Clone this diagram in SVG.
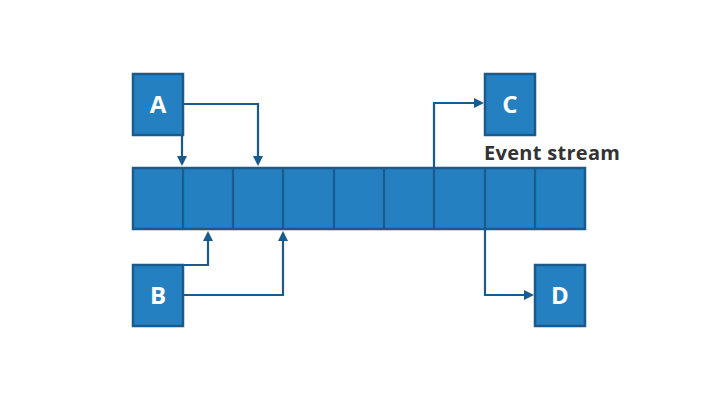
<svg xmlns="http://www.w3.org/2000/svg" width="717" height="400" viewBox="0 0 717 400">
<style>
.n{fill:#2480c0;stroke:#1a5a8c;stroke-width:2.5}
.c{fill:none;stroke:#1a5a8c;stroke-width:2.2}
.l{font-family:"Open Sans","Liberation Sans",sans-serif;font-weight:bold;fill:#fff;font-size:24px;text-anchor:middle}
</style>
<defs><marker id="ah" markerWidth="10" markerHeight="10" refX="8" refY="5" orient="auto" markerUnits="userSpaceOnUse"><path d="M0,0L10,5L0,10z" fill="#1a5a8c"/></marker></defs>
<rect width="717" height="400" fill="#fff"/>
<g id="stream">
<rect class="n" x="133" y="168" width="452" height="61"/>
<path class="c" d="M183,168V229M233,168V229M283,168V229M334,168V229M384,168V229M434,168V229M485,168V229M535,168V229"/>
</g>
<g id="A"><rect class="n" x="133" y="74" width="50" height="61"/><text class="l" x="158" y="113">A</text></g>
<g id="B"><rect class="n" x="133" y="265" width="50" height="61"/><text class="l" x="158" y="304">B</text></g>
<g id="C"><rect class="n" x="485" y="74" width="50" height="61"/><text class="l" x="510" y="113">C</text></g>
<g id="D"><rect class="n" x="535" y="265" width="50" height="61"/><text class="l" x="560" y="304">D</text></g>
<text x="484" y="160" font-family="'Open Sans','Liberation Sans',sans-serif" font-weight="bold" font-size="20" letter-spacing="0.3" fill="#333">Event stream</text>
<g id="connectors">
<path class="c" marker-end="url(#ah)" d="M182,135V164"/>
<path class="c" marker-end="url(#ah)" d="M183,104H258V164"/>
<path class="c" marker-end="url(#ah)" d="M183,265H208V233"/>
<path class="c" marker-end="url(#ah)" d="M183,295H283V233"/>
<path class="c" marker-end="url(#ah)" d="M434,168V103H482"/>
<path class="c" marker-end="url(#ah)" d="M485,229V295H532"/>
</g>
</svg>
